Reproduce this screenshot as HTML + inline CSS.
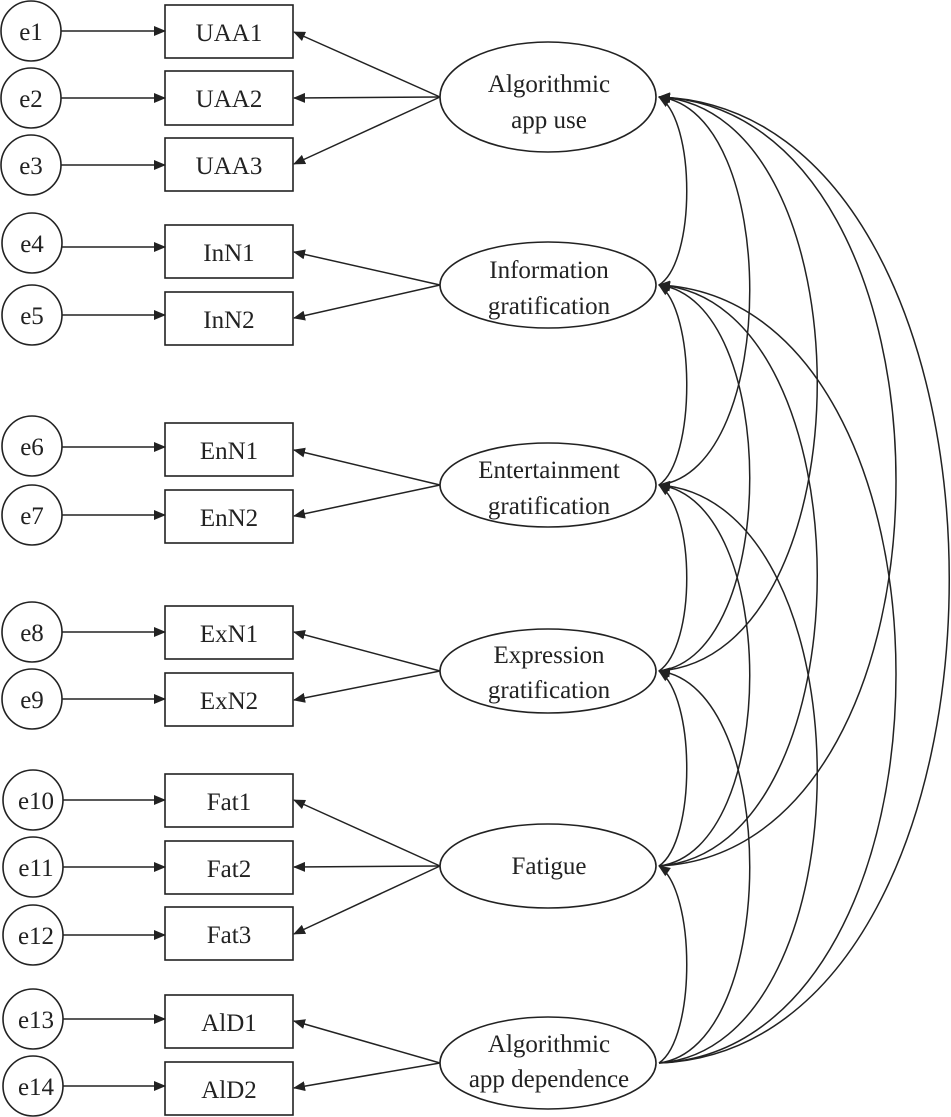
<!DOCTYPE html>
<html><head><meta charset="utf-8"><style>
html,body{margin:0;padding:0;background:#fff}
svg{display:block}
text{font-family:"Liberation Serif",serif;font-size:25px;fill:#222}
</style></head><body>
<svg width="951" height="1117" viewBox="0 0 951 1117" xmlns="http://www.w3.org/2000/svg">
<defs>
<marker id="a" markerWidth="12" markerHeight="10" refX="11" refY="5" orient="auto" markerUnits="userSpaceOnUse">
<path d="M0,0 L12,5 L0,10 Z" fill="#222"/></marker>
<marker id="s" markerWidth="12" markerHeight="10" refX="1" refY="5" orient="auto" markerUnits="userSpaceOnUse">
<path d="M12,0 L0,5 L12,10 Z" fill="#222"/></marker>
</defs>
<g stroke="#222" stroke-width="1.6" fill="none">
<!-- error circles -->
<circle cx="31" cy="31" r="30"/><circle cx="31" cy="98" r="30"/><circle cx="31" cy="165" r="30"/>
<circle cx="32" cy="243" r="30"/><circle cx="32" cy="315" r="30"/>
<circle cx="32" cy="446" r="30"/><circle cx="32" cy="515" r="30"/>
<circle cx="32" cy="632" r="30"/><circle cx="32" cy="699" r="30"/>
<circle cx="33" cy="800" r="30"/><circle cx="33" cy="867" r="30"/><circle cx="33" cy="935" r="30"/>
<circle cx="33" cy="1019" r="30"/><circle cx="33" cy="1086" r="30"/>
<!-- boxes -->
<rect x="165" y="5" width="128" height="53"/><rect x="165" y="71" width="128" height="54"/><rect x="165" y="138" width="128" height="53"/>
<rect x="165" y="225" width="128" height="53"/><rect x="165" y="292" width="128" height="53"/>
<rect x="165" y="423" width="128" height="53"/><rect x="165" y="490" width="128" height="53"/>
<rect x="165" y="606" width="128" height="53"/><rect x="165" y="673" width="128" height="53"/>
<rect x="165" y="774" width="128" height="53"/><rect x="165" y="841" width="128" height="53"/><rect x="165" y="907" width="128" height="53"/>
<rect x="165" y="995" width="128" height="53"/><rect x="165" y="1062" width="128" height="53"/>
<!-- ellipses -->
<ellipse cx="548" cy="97" rx="108" ry="55"/>
<ellipse cx="548" cy="285" rx="108" ry="43"/>
<ellipse cx="548" cy="485" rx="108" ry="42"/>
<ellipse cx="548" cy="671" rx="108" ry="42"/>
<ellipse cx="548" cy="866" rx="108" ry="42"/>
<ellipse cx="548" cy="1063" rx="108" ry="46"/>
</g>
<g stroke="#222" stroke-width="1.5" fill="none" marker-end="url(#a)">
<!-- error arrows -->
<line x1="61" y1="31" x2="165" y2="31"/><line x1="61" y1="98" x2="165" y2="98"/><line x1="61" y1="165" x2="165" y2="165"/>
<line x1="62" y1="247" x2="165" y2="247"/><line x1="62" y1="315" x2="165" y2="315"/>
<line x1="62" y1="447" x2="165" y2="447"/><line x1="62" y1="515" x2="165" y2="515"/>
<line x1="62" y1="632" x2="165" y2="632"/><line x1="62" y1="699" x2="165" y2="699"/>
<line x1="63" y1="800" x2="165" y2="800"/><line x1="63" y1="867" x2="165" y2="867"/><line x1="63" y1="935" x2="165" y2="935"/>
<line x1="63" y1="1019" x2="165" y2="1019"/><line x1="63" y1="1086" x2="165" y2="1086"/>
<!-- loadings -->
<line x1="440" y1="97" x2="294" y2="32"/><line x1="440" y1="97" x2="294" y2="98"/><line x1="440" y1="97" x2="294" y2="164"/>
<line x1="440" y1="285" x2="294" y2="252"/><line x1="440" y1="285" x2="294" y2="318"/>
<line x1="440" y1="485" x2="294" y2="450"/><line x1="440" y1="485" x2="294" y2="516"/>
<line x1="440" y1="671" x2="294" y2="632"/><line x1="440" y1="671" x2="294" y2="700"/>
<line x1="440" y1="866" x2="294" y2="800"/><line x1="440" y1="866" x2="294" y2="867"/><line x1="440" y1="866" x2="294" y2="934"/>
<line x1="440" y1="1063" x2="294" y2="1021"/><line x1="440" y1="1063" x2="294" y2="1088"/>
</g>
<g stroke="#222" stroke-width="1.5" fill="none" marker-start="url(#s)">
<!-- span 1 -->
<path d="M659,97 C696,120 696,262 659,285"/>
<path d="M659,285 C696,310 696,460 659,485"/>
<path d="M659,485 C696,510 696,646 659,671"/>
<path d="M659,671 C696,696 696,841 659,866"/>
<path d="M659,866 C696,891 696,1038 659,1063"/>
<!-- span 2 -->
<path d="M659,97 C780,110 780,470 659,485"/>
<path d="M659,285 C780,300 780,656 659,671"/>
<path d="M659,485 C780,500 780,851 659,866"/>
<path d="M659,671 C780,686 780,1048 659,1063"/>
<!-- span 3 -->
<path d="M659,97 C870,110 870,656 659,671"/>
<path d="M659,285 C870,300 870,851 659,866"/>
<path d="M659,485 C870,500 870,1048 659,1063"/>
<!-- span 4 -->
<path d="M659,97 C975,110 975,851 659,866"/>
<path d="M659,285 C975,300 975,1048 659,1063"/>
<!-- span 5 -->
<path d="M659,97 C1046,110 1046,1048 659,1063"/>
</g>
<g text-anchor="middle">
<text x="31" y="40">e1</text><text x="31" y="107">e2</text><text x="31" y="174">e3</text>
<text x="32" y="252">e4</text><text x="32" y="324">e5</text>
<text x="32" y="455">e6</text><text x="32" y="524">e7</text>
<text x="32" y="641">e8</text><text x="32" y="708">e9</text>
<text x="36" y="809">e10</text><text x="36" y="876">e11</text><text x="36" y="944">e12</text>
<text x="36" y="1028">e13</text><text x="36" y="1095">e14</text>
<text x="229" y="41">UAA1</text><text x="229" y="107">UAA2</text><text x="229" y="174">UAA3</text>
<text x="229" y="261">InN1</text><text x="229" y="328">InN2</text>
<text x="229" y="459">EnN1</text><text x="229" y="526">EnN2</text>
<text x="229" y="642">ExN1</text><text x="229" y="709">ExN2</text>
<text x="229" y="810">Fat1</text><text x="229" y="877">Fat2</text><text x="229" y="943">Fat3</text>
<text x="229" y="1031">AlD1</text><text x="229" y="1098">AlD2</text>
<text x="549" y="92">Algorithmic</text><text x="549" y="128">app use</text>
<text x="549" y="278">Information</text><text x="549" y="314">gratification</text>
<text x="549" y="478">Entertainment</text><text x="549" y="514">gratification</text>
<text x="549" y="663">Expression</text><text x="549" y="698">gratification</text>
<text x="549" y="874">Fatigue</text>
<text x="549" y="1052">Algorithmic</text><text x="549" y="1087">app dependence</text>
</g>
</svg>
</body></html>
